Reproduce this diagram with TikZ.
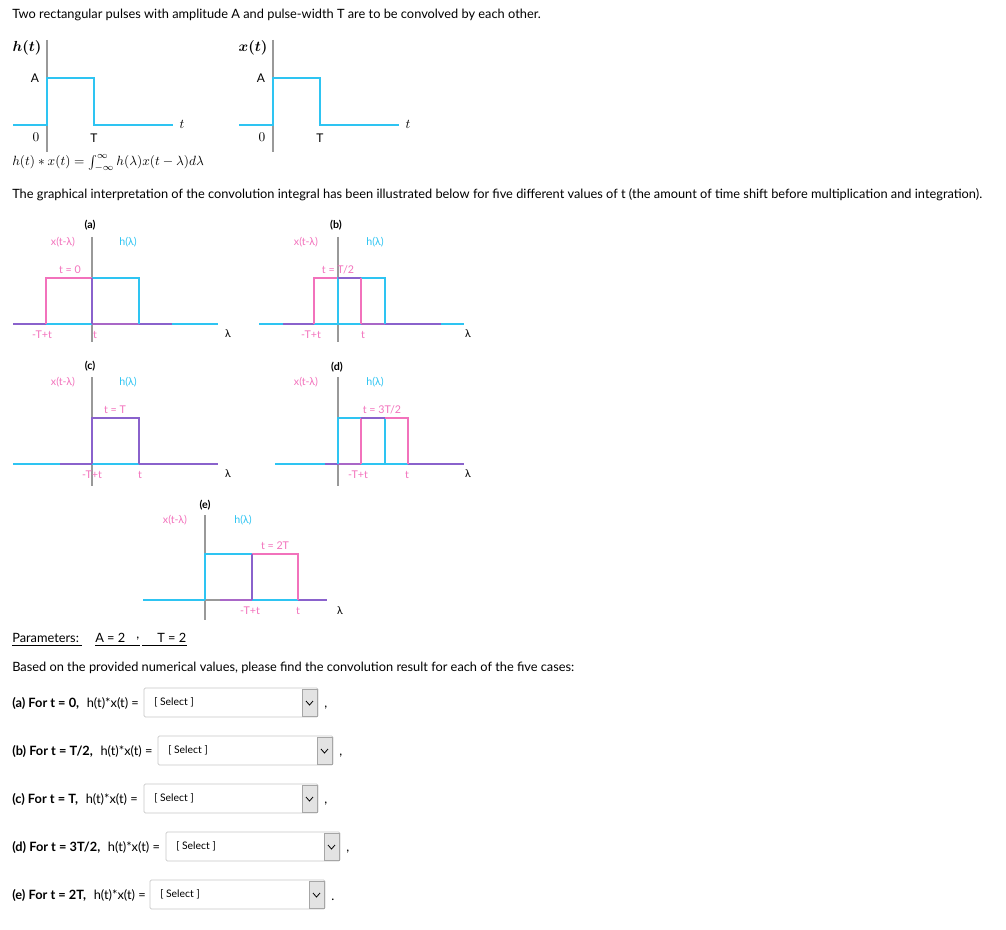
\documentclass[tikz,border=0pt]{standalone}
\usepackage{fontspec}
\setmainfont{Lato}
\usepackage{amsmath}
\begin{document}
\begin{tikzpicture}[x=0.75pt,y=-0.75pt,
  txt/.style={font=\fontsize{9.6}{11}\selectfont,anchor=west,inner sep=0},
  lab/.style={font=\fontsize{8}{9}\selectfont,inner sep=0},
  pk/.style={lab,text=pinkc},
  bl/.style={lab,text=bluec},
  axisl/.style={draw=gray!80,line width=1pt},
  bline/.style={draw=bluec,line width=1.4pt},
  pline/.style={draw=pinkc,line width=1.4pt},
  uline/.style={draw=purplec,line width=1.4pt},
  ddbox/.style={draw=gray!45,line width=0.6pt,rounded corners=1pt},
  ddbtn/.style={draw=gray!70,fill=gray!22,line width=0.6pt},
  mathl/.style={inner sep=0,font=\fontsize{10}{12}\selectfont}]
\definecolor{pinkc}{HTML}{F272BC}
\definecolor{bluec}{HTML}{2EC4F2}
\definecolor{purplec}{HTML}{8A62CC}
\useasboundingbox (0,0) rectangle (1006,930);
% intro text
\node[txt] (intro) at (12,15) {Two rectangular pulses with amplitude A and pulse-width T are to be convolved by each other.};
% top pulses
\foreach \ox/\nm/\lb/\tx in {47/h/h/182, 273/x/x/408}{
  \draw[axisl] (\ox,40) -- (\ox,152);
  \draw[bline] (\ox-34,125) -- (\ox,125) -- (\ox,78) -- (\ox+47,78) -- (\ox+47,125) -- (\ox+126,125);
  \node[inner sep=0,font=\fontsize{9}{10}\selectfont] at (\ox-12,78) {A};
  \node[mathl] at (\ox-11,137) {$0$};
  \node[inner sep=0,font=\fontsize{9}{10}\selectfont] at (\ox+47,138) {T};
  \node[mathl] at (\tx,124) {$t$};
  \node[mathl,font=\fontsize{11}{12}\selectfont] at (\ox-20,48) {$\boldsymbol{\lb(t)}$};
}
\node[mathl,anchor=west] (conv) at (12,163) {$h(t)*x(t)=\int_{-\infty}^{\infty}h(\lambda)x(t-\lambda)d\lambda$};
\node[txt] (interp) at (12,195) {The graphical interpretation of the convolution integral has been illustrated below for five different values of t (the amount of time shift before multiplication and integration).};
% (a)
\begin{scope}[shift={(92,324)}]
 \draw[axisl] (0,-87) -- (0,18);
 \draw[bline] (-79,0) -- (126,0);
 \draw[uline] (-79,0) -- (-46,0); \draw[uline] (47,0) -- (80,0);
 \draw[draw=purplec!70!pinkc,line width=1.4pt] (0,0) -- (47,0);
 \draw[pline] (-46,0) -- (-46,-46) -- (0,-46);
 \draw[bline] (0,-46) -- (47,-46) -- (47,0);
 \draw[uline] (0,0) -- (0,-46);
 \node[font=\bfseries\fontsize{8}{9}\selectfont,inner sep=0] at (-2,-99) {(a)};
 \node[pk] at (-29,-82) {x(t-λ)}; \node[bl] at (36,-82) {h(λ)};
 \node[pk] at (-22,-54) {t = 0};
 \node[pk] at (-50,11) {-T+t}; \node[pk] at (3,11) {t};
 \node[lab] at (136,10) {λ};
\end{scope}
% (b)
\begin{scope}[shift={(338,324)}]
 \draw[axisl] (0,-87) -- (0,18);
 \draw[bline] (-79,0) -- (126,0);
 \draw[uline] (-55,0) -- (-24,0); \draw[uline] (47,0) -- (103,0);
 \draw[draw=purplec!70!pinkc,line width=1.4pt] (23,0) -- (47,0);
 \draw[pline] (-24,0) -- (-24,-46) -- (0,-46);
 \draw[bline] (0,0) -- (0,-46) -- (47,-46) -- (47,0);
 \draw[uline] (0,-46) -- (23,-46);
 \draw[pline] (23,-46) -- (23,0);
 \node[font=\bfseries\fontsize{8}{9}\selectfont,inner sep=0] at (-2,-99) {(b)};
 \node[pk] at (-32,-82) {x(t-λ)}; \node[bl] at (37,-82) {h(λ)};
 \node[pk] at (0,-54) {t = T/2};
 \node[pk] at (-27,11) {-T+t}; \node[pk] at (25,11) {t};
 \node[lab] at (130,10) {λ};
\end{scope}
% (c)
\begin{scope}[shift={(92,464)}]
 \draw[axisl] (0,-87) -- (0,22);
 \draw[bline] (-79,0) -- (126,0);
 \draw[uline] (-32,0) -- (0,0); \draw[uline] (47,0) -- (126,0);
 \draw[uline] (0,0) -- (0,-46) -- (47,-46) -- (47,0);
 \node[font=\bfseries\fontsize{8}{9}\selectfont,inner sep=0] at (-2,-98) {(c)};
 \node[pk] at (-29,-82) {x(t-λ)}; \node[bl] at (36,-82) {h(λ)};
 \node[pk] at (23,-54) {t = T};
 \node[pk] at (0,11) {-T+t}; \node[pk] at (48,11) {t};
 \node[lab] at (136,10) {λ};
\end{scope}
% (d)
\begin{scope}[shift={(338,464)}]
 \draw[axisl] (0,-87) -- (0,22);
 \draw[bline] (-63,0) -- (126,0);
 \draw[uline] (-13,0) -- (0,0); \draw[uline] (70,0) -- (126,0);
 \draw[draw=purplec!70!pinkc,line width=1.4pt] (0,0) -- (23,0);
 \draw[bline] (0,0) -- (0,-46) -- (23,-46);
 \draw[bline] (47,-46) -- (47,0);
 \draw[pline] (23,0) -- (23,-46);
 \draw[uline] (23,-46) -- (47,-46);
 \draw[pline] (47,-46) -- (70,-46) -- (70,0);
 \node[font=\bfseries\fontsize{8}{9}\selectfont,inner sep=0] at (-1,-97) {(d)};
 \node[pk] at (-32,-82) {x(t-λ)}; \node[bl] at (37,-82) {h(λ)};
 \node[pk] at (44,-54) {t = 3T/2};
 \node[pk] at (20,11) {-T+t}; \node[pk] at (69,11) {t};
 \node[lab] at (130,10) {λ};
\end{scope}
% (e)
\begin{scope}[shift={(205,600)}]
 \draw[axisl] (0,-85) -- (0,20);
 \draw[bline] (-62,0) -- (0,0);
 \draw[draw=gray!80,line width=1.4pt] (0,0) -- (15,0);
 \draw[draw=purplec!70!pinkc,line width=1.4pt] (15,0) -- (47,0);
 \draw[bline] (47,0) -- (93,0);
 \draw[uline] (93,0) -- (122,0);
 \draw[bline] (0,0) -- (0,-46) -- (47,-46);
 \draw[pline] (47,-46) -- (93,-46) -- (93,0);
 \draw[uline] (47,-46) -- (47,0);
 \node[font=\bfseries\fontsize{8}{9}\selectfont,inner sep=0] at (0,-95) {(e)};
 \node[pk] at (-30,-80) {x(t-λ)}; \node[bl] at (38,-80) {h(λ)};
 \node[pk] at (70,-54) {t = 2T};
 \node[pk] at (45,11) {-T+t}; \node[pk] at (93,11) {t};
 \node[lab] at (135,11) {λ};
\end{scope}
% parameters
\node[txt] (params) at (12,638) {Parameters:};
\draw[line width=0.5pt] (12,645) -- (82,645);
\node[txt] (pa) at (95,638) {A = 2};
\draw[line width=0.5pt] (95,645) -- (140,645);
\node[txt] at (136,639) {,};
\node[txt] (pt) at (157,638) {T = 2};
\draw[line width=0.5pt] (142,645) -- (187,645);
\node[txt] (based) at (12,668) {Based on the provided numerical values, please find the convolution result for each of the five cases:};
% dropdowns
\foreach \y/\bx/\ex/\lbl/\pun [count=\i] in {703/144/318/{(a) For t = 0,}/{,}, 751/158/333/{(b) For t = T/2,}/{,}, 799/144/318/{(c) For t = T,}/{,}, 847/166/340/{(d) For t = 3T/2,}/{,}, 895/150/325/{(e) For t = 2T,}/{.}}{
  \node[txt] (q\i) at (12,\y) {\textbf{\lbl}\hspace{0.6em}h(t)*x(t) =};
  \draw[ddbox] (\bx,\y-15) rectangle (\ex,\y+14);
  \draw[ddbtn] (\ex-16,\y-14) rectangle (\ex-1,\y+13);
  \draw[line width=0.6pt] (\ex-12,\y-2) -- (\ex-8.5,\y+2) -- (\ex-5,\y-2);
  \node[inner sep=0,anchor=west,font=\fontsize{7.8}{9}\selectfont] at (\bx+10,\y-1) {[ Select ]};
  \node[txt] at (\ex+6,\y+5) {\pun};
}
\end{tikzpicture}
\end{document}
